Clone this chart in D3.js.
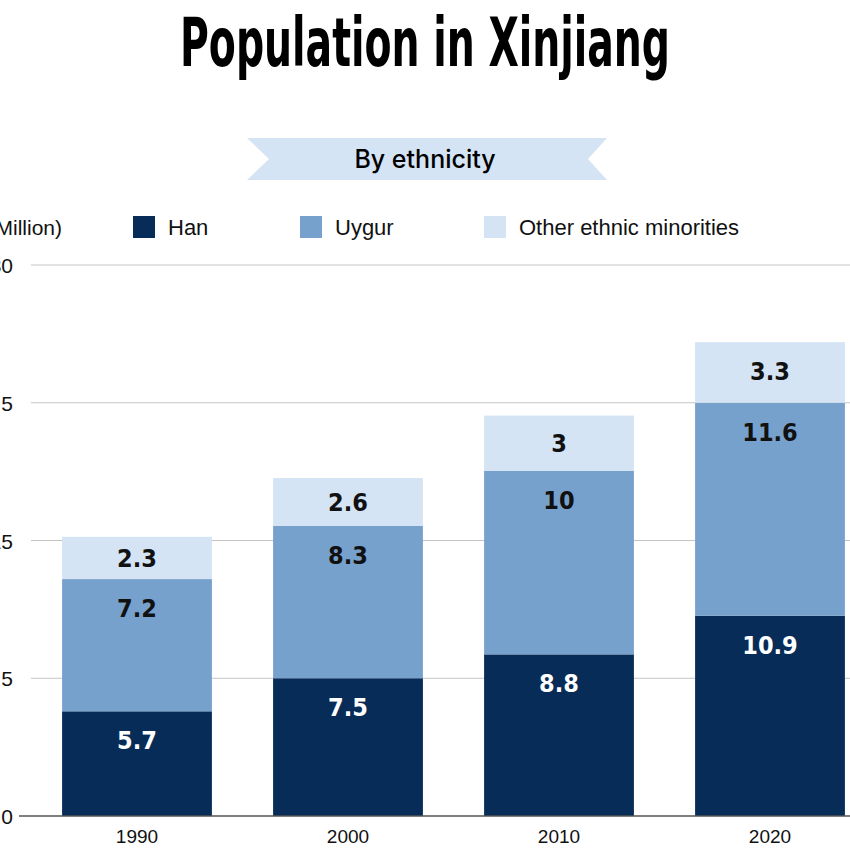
<!DOCTYPE html>
<html>
<head>
<meta charset="utf-8">
<script src="https://cdn.jsdelivr.net/npm/d3@7"></script>
<style>
  html, body { margin: 0; padding: 0; background: #fff; overflow: hidden; }
  svg { display: block; }
</style>
</head>
<body>
<div id="chart"></div>
<script>
// data
const years = ["1990", "2000", "2010", "2020"];
const series = ["Han", "Uygur", "Other ethnic minorities"];
const han = [5.7, 7.5, 8.8, 10.9];
const uygur = [7.2, 8.3, 10, 11.6];
const others = [2.3, 2.6, 3, 3.3];
const yTicks = [0, 7.5, 15, 22.5, 30];

const colors = ["#062c57", "#77a1cd", "#d4e4f4"];
const labelColors = ["#ffffff", "#111111", "#111111"];

const W = 850, H = 850;
const svg = d3.select("#chart").append("svg")
    .attr("width", W).attr("height", H);

// title
svg.append("text")
    .attr("x", 425).attr("y", 66)
    .attr("text-anchor", "middle")
    .attr("font-family", "DejaVu Sans Condensed, DejaVu Sans")
    .attr("font-weight", "bold")
    .attr("font-size", 68)
    .attr("textLength", 490)
    .attr("lengthAdjust", "spacingAndGlyphs")
    .attr("fill", "#000")
    .text("Population in Xinjiang");

// ribbon subtitle
const rb = { x0: 247, x1: 607, y0: 138, y1: 180, notch: 22 };
const ym = (rb.y0 + rb.y1) / 2;
svg.append("path")
    .attr("d", `M${rb.x0},${rb.y0} L${rb.x1},${rb.y0} L${rb.x1 - rb.notch + 3},${ym} L${rb.x1},${rb.y1} L${rb.x0},${rb.y1} L${rb.x0 + rb.notch},${ym} Z`)
    .attr("fill", "#d4e4f4");
svg.append("text")
    .attr("x", 425).attr("y", ym + 9)
    .attr("text-anchor", "middle")
    .attr("font-family", "Inter, Lato, sans-serif")
    .attr("font-weight", 500)
    .attr("font-size", 25)
    .attr("fill", "#000")
    .text("By ethnicity");

// scales
const y = d3.scaleLinear().domain([0, 30]).range([816, 265]);
const x = d3.scaleBand().domain(years).range([31.5, 875.5])
    .paddingInner(0.29).paddingOuter(0.145);

// unit label + legend
svg.append("text")
    .attr("x", 62).attr("y", 235)
    .attr("text-anchor", "end")
    .attr("font-family", "Liberation Sans, Arial, sans-serif")
    .attr("font-size", 21)
    .attr("fill", "#111")
    .text("(Million)");

const legendX = [133, 300, 484];
const legend = svg.append("g").selectAll("g")
    .data(series)
    .join("g")
    .attr("transform", (d, i) => `translate(${legendX[i]},216)`);
legend.append("rect")
    .attr("width", 22).attr("height", 22)
    .attr("fill", (d, i) => colors[i]);
legend.append("text")
    .attr("x", 35).attr("y", 19)
    .attr("font-family", "Liberation Sans, Arial, sans-serif")
    .attr("font-size", 22)
    .attr("fill", "#111")
    .text(d => d);

// grid lines
svg.append("g").selectAll("line")
    .data(yTicks.filter(t => t > 0))
    .join("line")
    .attr("x1", 31).attr("x2", W)
    .attr("y1", d => y(d)).attr("y2", d => y(d))
    .attr("stroke", "#c4c4c4").attr("stroke-width", 1);

// y tick labels (partly cut off at left edge, as in the source)
svg.append("g").selectAll("text")
    .data(yTicks)
    .join("text")
    .attr("x", 13).attr("y", d => y(d) + 8)
    .attr("text-anchor", "end")
    .attr("font-family", "Liberation Sans, Arial, sans-serif")
    .attr("font-size", 21)
    .attr("fill", "#111")
    .text(d => d);

// stacked bars
const rows = years.map((yr, i) => ({ year: yr, Han: han[i], Uygur: uygur[i], "Other ethnic minorities": others[i] }));
const stacked = d3.stack().keys(series)(rows);

const layers = svg.append("g").selectAll("g")
    .data(stacked)
    .join("g")
    .attr("fill", (d, i) => colors[i]);

layers.selectAll("rect")
    .data(d => d)
    .join("rect")
    .attr("x", d => x(d.data.year))
    .attr("width", x.bandwidth())
    .attr("y", d => y(d[1]))
    .attr("height", d => y(d[0]) - y(d[1]));

// value labels
stacked.forEach((layer, li) => {
    svg.append("g").selectAll("text")
        .data(layer)
        .join("text")
        .attr("x", d => x(d.data.year) + x.bandwidth() / 2)
        .attr("y", d => {
            const top = y(d[1]), h = y(d[0]) - y(d[1]);
            return top + Math.min(29, h / 2) + 9;
        })
        .attr("text-anchor", "middle")
        .attr("font-family", "DejaVu Sans Condensed, DejaVu Sans")
        .attr("font-weight", "bold")
        .attr("font-size", 25)
        .attr("fill", labelColors[li])
        .text(d => d.data[layer.key]);
});

// baseline
svg.append("line")
    .attr("x1", 19).attr("x2", W)
    .attr("y1", y(0)).attr("y2", y(0))
    .attr("stroke", "#555").attr("stroke-width", 1.5);

// x labels
svg.append("g").selectAll("text")
    .data(years)
    .join("text")
    .attr("x", d => x(d) + x.bandwidth() / 2)
    .attr("y", 843)
    .attr("text-anchor", "middle")
    .attr("font-family", "Liberation Sans Narrow, Liberation Sans, Arial, sans-serif")
    .attr("font-size", 19)
    .attr("fill", "#111")
    .text(d => d);
</script>
</body>
</html>
